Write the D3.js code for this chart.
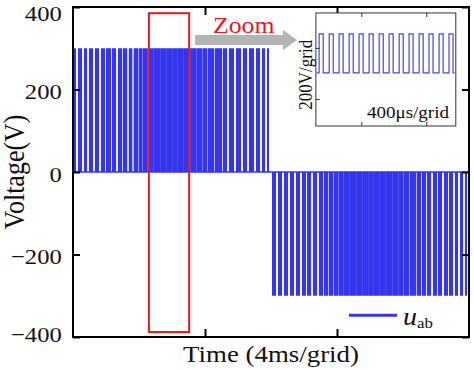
<!DOCTYPE html>
<html>
<head>
<meta charset="utf-8">
<script src="https://cdn.jsdelivr.net/npm/d3@7"></script>
<style>
  body { margin: 0; background: #fff; }
</style>
</head>
<body>
<svg id="chart" width="474" height="370" font-family="'Liberation Serif', 'Times New Roman', serif"></svg>
<script>
// half cycles of u_ab (time in ms, voltage in V)
const halfStart = [0, 6.03];
const halfEnd = [5.94, 11.94];
const halfLevel = [300, -300];

// switching notches (centre time in ms) and their widths (ms)
const posGaps = [0.12, 0.29, 0.45, 0.64, 0.82, 0.98, 1.17, 1.33, 1.50, 1.67, 1.82, 1.97, 2.12,
  2.27, 2.45, 2.64, 2.82, 3.00, 3.18, 3.36, 3.55, 3.73, 3.91, 4.09, 4.30, 4.52, 4.70, 4.91,
  5.12, 5.30, 5.52, 5.70, 5.85];
const posGapWidth = [0.06, 0.06, 0.06, 0.055, 0.055, 0.05, 0.05, 0.045, 0.04, 0.04, 0.035, 0.03,
  0.02, 0.012, 0.008, 0.006, 0.005, 0.005, 0.005, 0.006, 0.008, 0.012, 0.02, 0.03, 0.035, 0.04,
  0.045, 0.05, 0.05, 0.055, 0.06, 0.06, 0.06];
const negGaps = [6.18, 6.36, 6.55, 6.73, 6.91, 7.08, 7.24, 7.42, 7.59, 7.74, 7.89, 8.05, 8.21,
  8.39, 8.58, 8.76, 8.94, 9.12, 9.30, 9.48, 9.67, 9.85, 10.03, 10.21, 10.41, 10.56, 10.71,
  10.88, 11.05, 11.21, 11.38, 11.55, 11.71, 11.86];
const negGapWidth = [0.06, 0.06, 0.06, 0.055, 0.055, 0.05, 0.05, 0.045, 0.04, 0.035, 0.03, 0.02,
  0.012, 0.008, 0.006, 0.005, 0.005, 0.005, 0.005, 0.005, 0.006, 0.008, 0.02, 0.03, 0.035, 0.04,
  0.045, 0.05, 0.05, 0.055, 0.055, 0.06, 0.06, 0.06];

const yTicks = [-400, -200, 0, 200, 400];
const xTicks = [4, 8];

// zoomed inset (time in us, voltage in V)
const insetRise = [-260, -198, -137, -75, -14, 48, 110, 171, 233, 294, 356, 417, 479, 540];
const insetFall = [-235, -173, -112, -50, 11, 73, 135, 196, 258, 319, 381, 442, 504, 565];
const insetHigh = 255, insetLow = 102;
const insetXTicks = [0, 400];
const insetYTicks = [0, 200];

const BLUE = "#3535ee";
const RED = "#e8191e";
const SX = 1.12; // the reference text is a bit wide

const svg = d3.select("#chart");
const W = 474, H = 370;
const margin = {left: 73, right: 5, top: 7, bottom: 33};

const x = d3.scaleLinear().domain([0, 12]).range([margin.left, W - margin.right]);
const y = d3.scaleLinear().domain([-400, 400]).range([H - margin.bottom, margin.top]);

function label(sel, px, py, rot) {
  return sel.attr("transform", `translate(${px},${py}) scale(${SX},1)` + (rot ? ` rotate(${rot})` : ""));
}

// blue half cycles, then the notches cut out of them
svg.append("g").selectAll("rect").data(halfLevel).join("rect")
  .attr("x", (d, i) => x(halfStart[i]))
  .attr("width", (d, i) => x(halfEnd[i]) - x(halfStart[i]))
  .attr("y", d => Math.min(y(d), y(0)))
  .attr("height", d => Math.abs(y(d) - y(0)))
  .attr("fill", BLUE);

// notches narrower than a pixel are drawn 1px wide and faded instead
const notches = posGaps.map((g, i) => ({t: g, w: posGapWidth[i], v: halfLevel[0]}))
  .concat(negGaps.map((g, i) => ({t: g, w: negGapWidth[i], v: halfLevel[1]})));
const px = d => x(d.t + d.w / 2) - x(d.t - d.w / 2);
svg.append("g").attr("shape-rendering", "crispEdges")
  .selectAll("rect").data(notches).join("rect")
  .attr("x", d => x(d.t) - Math.max(1, px(d)) / 2)
  .attr("width", d => Math.max(1, px(d)))
  .attr("y", d => Math.min(y(d.v), y(0)))
  .attr("height", d => Math.abs(y(d.v) - y(0)))
  .attr("fill", "#f6f6ff")
  .attr("fill-opacity", d => Math.min(1, 0.5 * Math.pow(px(d), 1.5) + 0.06));

svg.append("line")
  .attr("x1", x(0)).attr("x2", x(12))
  .attr("y1", y(0)).attr("y2", y(0))
  .attr("stroke", BLUE).attr("stroke-width", 1.5);

// axes with inward ticks on all four sides
const axL = svg.append("g").attr("transform", `translate(${x(0)},0)`)
  .call(d3.axisLeft(y).tickValues(yTicks).tickSizeInner(-7).tickSizeOuter(0).tickPadding(10));
const axR = svg.append("g").attr("transform", `translate(${x(12)},0)`)
  .call(d3.axisRight(y).tickValues(yTicks).tickSizeInner(-7).tickSizeOuter(0).tickFormat(""));
const axB = svg.append("g").attr("transform", `translate(0,${y(-400)})`)
  .call(d3.axisBottom(x).tickValues(xTicks).tickSizeInner(-8).tickSizeOuter(0).tickFormat(""));
const axT = svg.append("g").attr("transform", `translate(0,${y(400)})`)
  .call(d3.axisTop(x).tickValues(xTicks).tickSizeInner(-8).tickSizeOuter(0).tickFormat(""));
[axL, axR, axB, axT].forEach(a => {
  a.attr("font-family", null);
  a.select(".domain").remove();
  a.selectAll("line").attr("stroke", "#000").attr("stroke-width", 2);
});
axL.selectAll("text")
  .attr("font-size", 22).attr("fill", "#111")
  .attr("dy", d => d === 400 ? "0.62em" : d === -400 ? "0.22em" : "0.42em")
  .attr("transform", `scale(${SX},1)`);

svg.append("rect")
  .attr("x", x(0)).attr("y", y(400))
  .attr("width", x(12) - x(0)).attr("height", y(-400) - y(400))
  .attr("fill", "none").attr("stroke", "#000").attr("stroke-width", 2);

// axis titles
label(svg.append("text"), 14, y(0), -90)
  .attr("text-anchor", "middle").attr("dy", "0.35em")
  .attr("font-size", 26).attr("fill", "#111").text("Voltage(V)");
label(svg.append("text"), (x(0) + x(12)) / 2, 362, 0)
  .attr("text-anchor", "middle")
  .attr("font-size", 24).attr("fill", "#111").text("Time (4ms/grid)");

// zoom window and arrow
svg.append("rect")
  .attr("x", x(2.3)).attr("y", y(385))
  .attr("width", x(3.52) - x(2.3)).attr("height", y(-388) - y(385))
  .attr("fill", "none").attr("stroke", RED).attr("stroke-width", 2);

const ax0 = x(3.7), ax1 = x(6.79), ay = y(320);
svg.append("path")
  .attr("d", `M${ax0},${ay - 5}H${ax1 - 14}V${ay - 10}L${ax1},${ay}L${ax1 - 14},${ay + 10}V${ay + 5}H${ax0}Z`)
  .attr("fill", "#b4b4b4");
label(svg.append("text"), x(4.24), y(337), 0)
  .attr("font-size", 23).attr("fill", RED).text("Zoom");

// inset
const ix = d3.scaleLinear().domain([-280, 582]).range([x(7.36), x(11.6)]);
const iy = d3.scaleLinear().domain([-106, 337]).range([y(111.5), y(385.5)]);
const inset = svg.append("g");
inset.append("rect")
  .attr("x", ix(-280)).attr("y", iy(337))
  .attr("width", ix(582) - ix(-280)).attr("height", iy(-106) - iy(337))
  .attr("fill", "#fff").attr("stroke", "#333").attr("stroke-width", 1);

const iL = inset.append("g").attr("transform", `translate(${ix(-280)},0)`)
  .call(d3.axisLeft(iy).tickValues(insetYTicks).tickSizeInner(-4).tickSizeOuter(0).tickFormat(""));
const iB = inset.append("g").attr("transform", `translate(0,${iy(-106)})`)
  .call(d3.axisBottom(ix).tickValues(insetXTicks).tickSizeInner(-4).tickSizeOuter(0).tickFormat(""));
const iT = inset.append("g").attr("transform", `translate(0,${iy(337)})`)
  .call(d3.axisTop(ix).tickValues(insetXTicks).tickSizeInner(-4).tickSizeOuter(0).tickFormat(""));
[iL, iB, iT].forEach(a => {
  a.select(".domain").remove();
  a.selectAll("line").attr("stroke", "#333").attr("stroke-width", 1);
});

const pts = [[-275, insetLow]];
insetRise.forEach((r, i) => {
  pts.push([r, insetLow], [r, insetHigh], [insetFall[i], insetHigh], [insetFall[i], insetLow]);
});
pts.push([575, insetLow]);
inset.append("path")
  .attr("d", d3.line().x(d => ix(d[0])).y(d => iy(d[1]))(pts))
  .attr("fill", "none").attr("stroke", "#4444ee").attr("stroke-width", 1.2);

label(inset.append("text"), ix(-280) - 4, iy(95), -90)
  .attr("text-anchor", "middle")
  .attr("font-size", 17).attr("fill", "#111").text("200V/grid");
label(inset.append("text"), ix(540), iy(-75), 0)
  .attr("text-anchor", "end")
  .attr("font-size", 17).attr("fill", "#111").text("400μs/grid");

// legend
svg.append("line")
  .attr("x1", x(8.36)).attr("x2", x(9.82))
  .attr("y1", y(-347)).attr("y2", y(-347))
  .attr("stroke", BLUE).attr("stroke-width", 3);
const leg = label(svg.append("text"), x(10.0), y(-372), 0)
  .attr("font-size", 25).attr("fill", "#111");
leg.append("tspan").attr("font-style", "italic").text("u");
leg.append("tspan").attr("font-size", 15).attr("dy", 3).text("ab");
</script>
</body>
</html>
